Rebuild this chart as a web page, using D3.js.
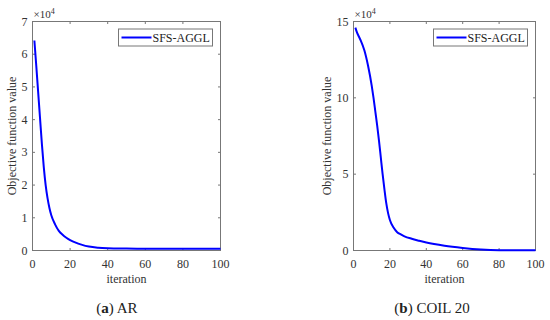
<!DOCTYPE html>
<html>
<head>
<meta charset="utf-8">
<script src="https://cdn.jsdelivr.net/npm/d3@7"></script>
<style>
  body { margin: 0; background: #fff; }
  svg { font-family: "Liberation Serif", "Times New Roman", serif; }
</style>
</head>
<body>
<div id="main"></div>
<script>
const ctx = {
    w: 550,
    h: 320
};

// values are in units of 10^4
const xTicks = [0, 20, 40, 60, 80, 100];

const arIter  = [1, 2, 3, 4, 5, 6, 7, 8, 9, 10, 12, 14, 16, 18, 20, 23, 26, 30, 35, 40, 50, 60, 70, 80, 90, 100];
const arValue = [6.42, 5.65, 4.85, 4.05, 3.25, 2.55, 2.0, 1.6, 1.3, 1.08, 0.8, 0.6, 0.48, 0.39, 0.32, 0.24, 0.18, 0.12, 0.085, 0.07, 0.06, 0.055, 0.052, 0.05, 0.05, 0.05];
const arYTicks = [0, 1, 2, 3, 4, 5, 6, 7];

const coilIter  = [1, 2, 3, 4, 6, 8, 10, 11, 12, 13, 14, 15, 16, 17, 18, 19, 20, 22, 24, 26, 28, 32, 36, 40, 50, 60, 70, 80, 90, 100];
const coilValue = [14.6, 14.25, 14.0, 13.75, 13.1, 12.1, 10.8, 10.0, 9.1, 8.2, 7.2, 6.1, 5.0, 4.0, 3.1, 2.45, 2.0, 1.5, 1.2, 1.05, 0.93, 0.77, 0.64, 0.52, 0.31, 0.17, 0.07, 0.02, 0.01, 0.01];
const coilYTicks = [0, 5, 10, 15];

const seriesName = "SFS-AGGL";

function drawPanel(rootG, p) {
    const g = rootG.append("g");
    const x = d3.scaleLinear().domain([0, 100]).range([p.left, p.right]);
    const y = d3.scaleLinear().domain([0, p.yMax]).range([p.bottom, p.top]);
    const tl = 2.5;

    // frame
    g.append("rect")
        .attr("x", p.left).attr("y", p.top)
        .attr("width", p.right - p.left).attr("height", p.bottom - p.top)
        .attr("fill", "#fff").attr("stroke", "#777").attr("stroke-width", 1);

    // ticks inside, on all 4 sides
    const axG = g.append("g").attr("stroke", "#777").attr("stroke-width", 1);
    xTicks.forEach(t => {
        axG.append("line").attr("x1", x(t)).attr("x2", x(t)).attr("y1", p.bottom).attr("y2", p.bottom - tl);
        axG.append("line").attr("x1", x(t)).attr("x2", x(t)).attr("y1", p.top).attr("y2", p.top + tl);
    });
    p.yTicks.forEach(t => {
        axG.append("line").attr("x1", p.left).attr("x2", p.left + tl).attr("y1", y(t)).attr("y2", y(t));
        axG.append("line").attr("x1", p.right).attr("x2", p.right - tl).attr("y1", y(t)).attr("y2", y(t));
    });

    // tick labels
    g.append("g").selectAll("text").data(xTicks).enter().append("text")
        .attr("x", d => x(d)).attr("y", p.bottom + 17)
        .attr("text-anchor", "middle").attr("font-size", 12).attr("fill", "#333")
        .text(d => d);
    g.append("g").selectAll("text").data(p.yTicks).enter().append("text")
        .attr("x", p.left - 5).attr("y", d => y(d) + 4)
        .attr("text-anchor", "end").attr("font-size", 12).attr("fill", "#333")
        .text(d => d);

    // exponent
    const ex = g.append("text").attr("x", p.left + 1).attr("y", p.top - 3.5)
        .attr("font-size", 11).attr("fill", "#333");
    ex.append("tspan").text("\u00d710");
    ex.append("tspan").attr("font-size", 8).attr("dy", -4.5).text("4");

    // axis labels
    g.append("text")
        .attr("x", (p.left + p.right) / 2).attr("y", p.bottom + 32)
        .attr("text-anchor", "middle").attr("font-size", 12).attr("fill", "#333")
        .text("iteration");
    g.append("text")
        .attr("transform", `translate(${p.yLabelX},${(p.top + p.bottom) / 2}) rotate(-90)`)
        .attr("text-anchor", "middle").attr("font-size", 12).attr("fill", "#333")
        .text("Objective function value");

    // curve
    const line = d3.line()
        .x((d, i) => x(p.iter[i]))
        .y(d => y(d))
        .curve(d3.curveMonotoneX);
    g.append("path")
        .datum(p.values)
        .attr("d", line)
        .attr("fill", "none").attr("stroke", "#0000ff").attr("stroke-width", 2);

    // legend
    const lg = g.append("g");
    lg.append("rect")
        .attr("x", p.right - 102).attr("y", p.top + 7.5)
        .attr("width", 94).attr("height", 17)
        .attr("fill", "#fff").attr("stroke", "#777").attr("stroke-width", 1);
    lg.append("line")
        .attr("x1", p.right - 99).attr("x2", p.right - 69)
        .attr("y1", p.top + 16).attr("y2", p.top + 16)
        .attr("stroke", "#0000ff").attr("stroke-width", 2);
    lg.append("text")
        .attr("x", p.right - 68).attr("y", p.top + 20.5)
        .attr("font-size", 12).attr("fill", "#222")
        .text(seriesName);

    // caption
    const cap = g.append("text")
        .attr("x", p.captionX).attr("y", 313)
        .attr("text-anchor", "middle").attr("font-size", 15).attr("fill", "#222");
    cap.append("tspan").text("(");
    cap.append("tspan").attr("font-weight", "bold").text(p.letter);
    cap.append("tspan").text(") " + p.caption);
}

function createViz() {
    const svgEl = d3.select("#main").append("svg")
        .attr("width", ctx.w).attr("height", ctx.h);
    const rootG = svgEl.append("g").attr("id", "rootG");

    drawPanel(rootG, {
        left: 32.5, right: 220.5, top: 21.5, bottom: 250.5,
        yMax: 7, yTicks: arYTicks, iter: arIter, values: arValue,
        yLabelX: 16, captionX: 117, letter: "a", caption: "AR"
    });
    drawPanel(rootG, {
        left: 353.5, right: 535.5, top: 21.5, bottom: 250.5,
        yMax: 15, yTicks: coilYTicks, iter: coilIter, values: coilValue,
        yLabelX: 331, captionX: 432, letter: "b", caption: "COIL 20"
    });
}

createViz();
</script>
</body>
</html>
